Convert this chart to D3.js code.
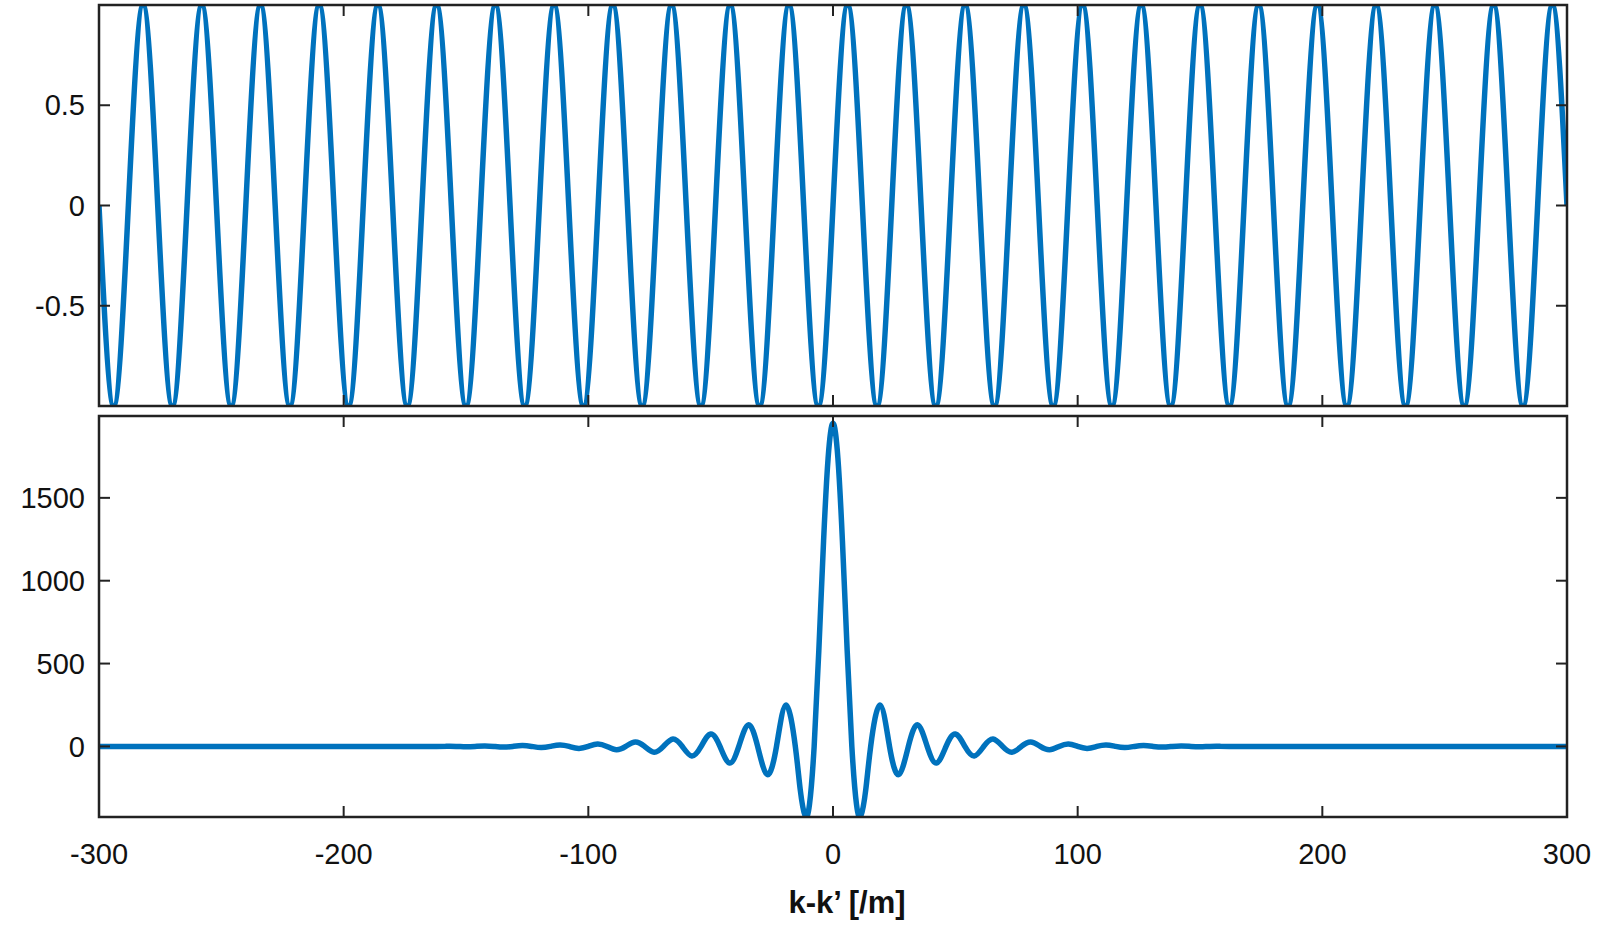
<!DOCTYPE html>
<html><head><meta charset="utf-8">
<script src="https://cdn.jsdelivr.net/npm/d3@7"></script>
<style>body{margin:0;background:#fff}text{font-family:"Liberation Sans",Arial,sans-serif}</style>
</head><body><svg id="c" width="1600" height="925"></svg>
<script>
const xTicks=[-300,-200,-100,0,100,200,300];
const topYTicks=[-0.5,0,0.5];
const botYTicks=[0,500,1000,1500];
const topY=[0,-1,0,1,0,-1,0,1,0,-1,0,1,0,-1,0,1,0,-1,0,1,0,-1,0,1,0,-1,0,1,0,-1,0,1,0,-1,0,1,0,-1,0,1,0,-1,0,1,0,-1,0,1,0,-1,0,1,0,-1,0,1,0,-1,0,1,0,-1,0,1,0,-1,0,1,0,-1,0,1,0,-1,0,1,0,-1,0,1,0,-1,0,1,0,-1,0,1,0,-1,0,1,0,-1,0,1,0,-1,0,1,0];
const topStep=6;
// right half of bottom curve (symmetric about 0)
const botX=[0,2,3.85,5.8,7.7,9.6,11.4,13.4,15.4,19.2,23.1,26.9,30.8,34.6,38.5,42.3,46.2,50,53.9,57.7,61.6,65.4,69.3,73.1,77,80.8,84.7,88.5,92.4,96.2,100,103.9,107.8,111.6,115.5,119.3,123.2,127,130.9,134.7,138.6,142.4,146.3,150,154,158,162,200,250,300];
const botY=[1950,1740,1240,577,0,-349,-418,-260,0,250,0,-170,0,130,0,-100,0,75,0,-58,0,45,0,-35,0,27,0,-20,0,15,0,-12,0,9,0,-7,0,5,0,-4,0,3,0,-2,0,1.5,0,0,0,0];

const svg=d3.select("#c");
const L=99,R=1567;
const x=d3.scaleLinear().domain([-300,300]).range([L,R]);
const panels=[
 {t:5,b:406,dom:[-1,1],ticks:topYTicks,fmt:d=>d===0?"0":String(d)},
 {t:416,b:817,dom:[-426,1994],ticks:botYTicks,fmt:d=>String(d)}
];
const blue="#0072BD";
const topData=topY.map((v,i)=>[-300+i*topStep,v]);
const left=botX.slice(1).map((v,i)=>[-v,botY[i+1]]).reverse();
const botData=left.concat(botX.map((v,i)=>[v,botY[i]]));
const datas=[topData,botData];
panels.forEach((p,k)=>{
  const y=d3.scaleLinear().domain(p.dom).range([p.b,p.t]);
  const g=svg.append("g");
  const cid="clip"+k;
  svg.append("clipPath").attr("id",cid).append("rect").attr("x",L).attr("y",p.t).attr("width",R-L).attr("height",p.b-p.t);
  g.append("path").datum(datas[k]).attr("clip-path",`url(#${cid})`)
   .attr("d",d3.line().x(d=>x(d[0])).y(d=>y(d[1])).curve(d3.curveNatural))
   .attr("fill","none").attr("stroke",blue).attr("stroke-width",5.5);
  const tl=11;
  p.ticks.forEach(v=>{
    g.append("line").attr("x1",L).attr("x2",L+tl).attr("y1",y(v)).attr("y2",y(v)).attr("stroke","#222").attr("stroke-width",2);
    g.append("line").attr("x1",R).attr("x2",R-tl).attr("y1",y(v)).attr("y2",y(v)).attr("stroke","#222").attr("stroke-width",2);
    g.append("text").attr("x",L-14).attr("y",y(v)).attr("dy","0.35em").attr("text-anchor","end").attr("font-size",29).attr("fill","#111").text(p.fmt(v));
  });
  xTicks.forEach(v=>{
    g.append("line").attr("x1",x(v)).attr("x2",x(v)).attr("y1",p.b).attr("y2",p.b-tl).attr("stroke","#222").attr("stroke-width",2);
    g.append("line").attr("x1",x(v)).attr("x2",x(v)).attr("y1",p.t).attr("y2",p.t+tl).attr("stroke","#222").attr("stroke-width",2);
  });
  g.append("rect").attr("x",L).attr("y",p.t).attr("width",R-L).attr("height",p.b-p.t).attr("fill","none").attr("stroke","#222").attr("stroke-width",2.5);
});
xTicks.forEach(v=>{
  svg.append("text").attr("x",x(v)).attr("y",864).attr("text-anchor","middle").attr("font-size",29).attr("fill","#111").text(v);
});
svg.append("text").attr("x",x(0)+14).attr("y",913).attr("text-anchor","middle").attr("font-size",31).attr("font-weight","bold").attr("fill","#111").text("k-k’ [/m]");
</script></body></html>
